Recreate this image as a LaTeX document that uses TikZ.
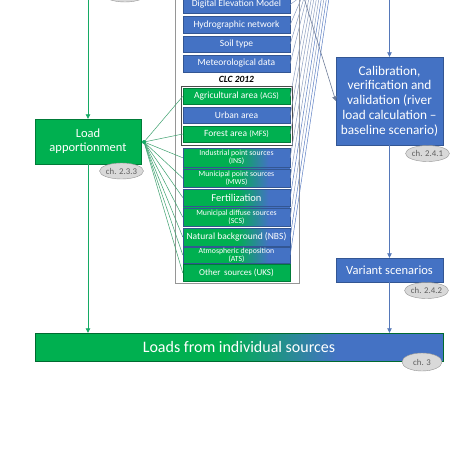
\documentclass[tikz,border=0pt]{standalone}
\usepackage{fontspec}
\setmainfont{Carlito}
\usetikzlibrary{arrows.meta,shapes.geometric}
\definecolor{grn}{RGB}{0,176,80}
\definecolor{blu}{RGB}{68,114,196}
\definecolor{fangreen}{RGB}{60,160,110}
\definecolor{fanblue}{RGB}{140,158,192}
\definecolor{fanblue2}{RGB}{90,125,195}
\definecolor{arrgreen}{RGB}{20,170,100}
\definecolor{arrblue}{RGB}{85,120,185}
\definecolor{badgefill}{RGB}{217,217,217}
\definecolor{badgeline}{RGB}{150,150,150}
\definecolor{badgetext}{RGB}{95,95,95}
\definecolor{framegray}{RGB}{150,150,150}
\pgfdeclarehorizontalshading{gbshade}{100bp}{color(0bp)=(grn); color(50bp)=(grn); color(65bp)=(blu); color(100bp)=(blu)}
\pgfdeclarehorizontalshading{loadshade}{100bp}{color(0bp)=(grn); color(48bp)=(grn); color(62bp)=(blu); color(100bp)=(blu)}
\tikzset{
  box/.style={rectangle, inner sep=0pt, text=white, align=center, line width=0.4pt},
  bluebox/.style={box, fill=blu, draw=blu!75!black},
  greenbox/.style={box, fill=grn, draw=grn!70!black},
  gradbox/.style={box, shade, shading=gbshade, draw=blu!75!black},
  colbox/.style={minimum width=107pt, font=\fontsize{9.5}{10}\selectfont},
  smallbox/.style={minimum width=107pt, font=\fontsize{7.8}{8}\selectfont},
  badge/.style={ellipse, fill=badgefill, draw=badgeline, text=badgetext, inner sep=0pt, minimum width=43pt, minimum height=16pt, font=\fontsize{8.8}{9}\selectfont},
  arr/.style={-{Triangle[length=4.5pt,width=4.5pt]}, line width=0.8pt},
  gfan/.style={draw=fangreen, line width=0.5pt},
  bfan/.style={draw=fanblue, line width=0.5pt},
  bigfont/.style={font=\fontsize{12.5}{14}\selectfont}
}
\begin{document}
\begin{tikzpicture}[x=1pt,y=-1pt]
\useasboundingbox (0,0) rectangle (474,474);
\clip (0,0) rectangle (474,474);
\fill[white] (0,0) rectangle (474,474);

% partial badge at top
\node[badge] (topbadge) at (125,-6) {};

% frames
\node[draw=framegray, line width=0.6pt, minimum width=124pt, minimum height=290pt, inner sep=0pt] (colframe) at (237,138) {};
\node[draw=gray!60!black, line width=0.7pt, minimum width=111pt, minimum height=59pt, inner sep=0pt] (clcframe) at (236.5,115.5) {};

% column boxes
\node[bluebox,colbox,minimum height=17pt] (dem) at (236.5,4.5) {Digital Elevation Model};
\node[bluebox,colbox,minimum height=16.5pt] (hydro) at (236.5,24.8) {Hydrographic network};
\node[bluebox,colbox,minimum height=16.5pt] (soil) at (236.5,44) {Soil type};
\node[bluebox,colbox,minimum height=17pt] (met) at (236.5,63.5) {Meteorological data};
\node[font=\bfseries\itshape\fontsize{9.5}{10}\selectfont] (clc) at (236.5,79.5) {CLC 2012};
\node[greenbox,colbox,minimum height=16.5pt] (agr) at (236.5,96.3) {Agricultural area {\fontsize{8.3}{9}\selectfont(AGS)}};
\node[bluebox,colbox,minimum height=16.5pt] (urban) at (236.5,115.3) {Urban area};
\node[greenbox,colbox,minimum height=16.5pt] (forest) at (236.5,134) {Forest area {\fontsize{8.3}{9}\selectfont(MFS)}};
\node[gradbox,smallbox,minimum height=19.5pt] (ins) at (236.5,157.8) {Industrial point sources\\(INS)};
\node[gradbox,smallbox,minimum height=18.5pt] (mws) at (236.5,178.2) {Municipal point sources\\(MWS)};
\node[gradbox,colbox,minimum height=17pt,font=\fontsize{10.5}{11}\selectfont] (fert) at (236.5,197.5) {Fertilization};
\node[gradbox,smallbox,minimum height=18.5pt] (scs) at (236.5,217.2) {Municipal diffuse sources\\(SCS)};
\node[gradbox,colbox,minimum height=18pt] (nbs) at (236.5,237) {Natural background (NBS)};
\node[gradbox,smallbox,minimum height=16pt] (ats) at (236.5,255) {Atmospheric deposition\\(ATS)};
\node[greenbox,colbox,minimum height=17pt,font=\fontsize{9}{10}\selectfont] (uks) at (236.5,273) {Other\, sources (UKS)};

% left column
\node[greenbox,bigfont,minimum width=106pt,minimum height=45pt] (la) at (88,141.5) {Load\\apportionment};
\node[badge] (b233) at (121.5,171) {ch. 2.3.3};

% right column
\node[bluebox,font=\fontsize{13.3}{14.7}\selectfont,minimum width=107pt,minimum height=88pt] (cal) at (389.5,101) {Calibration,\\verification and\\validation (river\\load calculation --\\baseline scenario)};
\node[badge] (b241) at (427.5,153.5) {ch. 2.4.1};
\node[bluebox,bigfont,minimum width=107pt,minimum height=24pt] (var) at (389.5,270) {Variant scenarios};
\node[badge] (b242) at (426.5,290.5) {ch. 2.4.2};

% bottom bar
\node[box, shade, shading=loadshade, draw=grn!60!black, minimum width=408pt, minimum height=28pt, font=\fontsize{16}{18}\selectfont] (loads) at (239,347) {Loads from individual sources};
\node[badge, minimum width=40pt, minimum height=18pt] (b3) at (422,362) {ch. 3};

% free ends at top
\coordinate (gtop) at (88,-2);
\coordinate (btop) at (389.5,-2);
\coordinate (calsrc) at (304,-2);
\coordinate (hub) at (144,142);

% vertical arrows
\draw[arr, arrgreen] (gtop) -- (la.north);
\draw[arr, arrgreen] (la.south) -- (la.south |- loads.north);
\draw[arr, arrblue] (btop) -- (cal.north);
\draw[arr, arrblue] (cal.south) -- (var.north);
\draw[arr, arrblue] (var.south) -- (var.south |- loads.north);

% left fan
\foreach \t in {agr,forest,ins,mws,fert,scs,nbs,ats,uks}
  \draw[gfan] (hub) -- (\t.west);
\fill[arrgreen] (hub) circle (2pt);

% right fan
\foreach \t/\x/\c in {dem/299/fanblue,hydro/301.5/fanblue,soil/304/fanblue,met/306.5/fanblue,agr/309/fanblue,urban/311.5/fanblue,forest/314/fanblue,ins/316.5/fanblue,mws/319/fanblue,fert/321.5/fanblue2,scs/324/fanblue,nbs/326.5/fanblue2,ats/329/fanblue2}{
  \coordinate (rt\t) at (\x,-2);
  \draw[bfan, draw=\c] (\t.east) -- (rt\t);
}
\draw[arr, line width=0.6pt, fanblue!80!black] (calsrc) -- (cal.west);
\end{tikzpicture}
\end{document}
